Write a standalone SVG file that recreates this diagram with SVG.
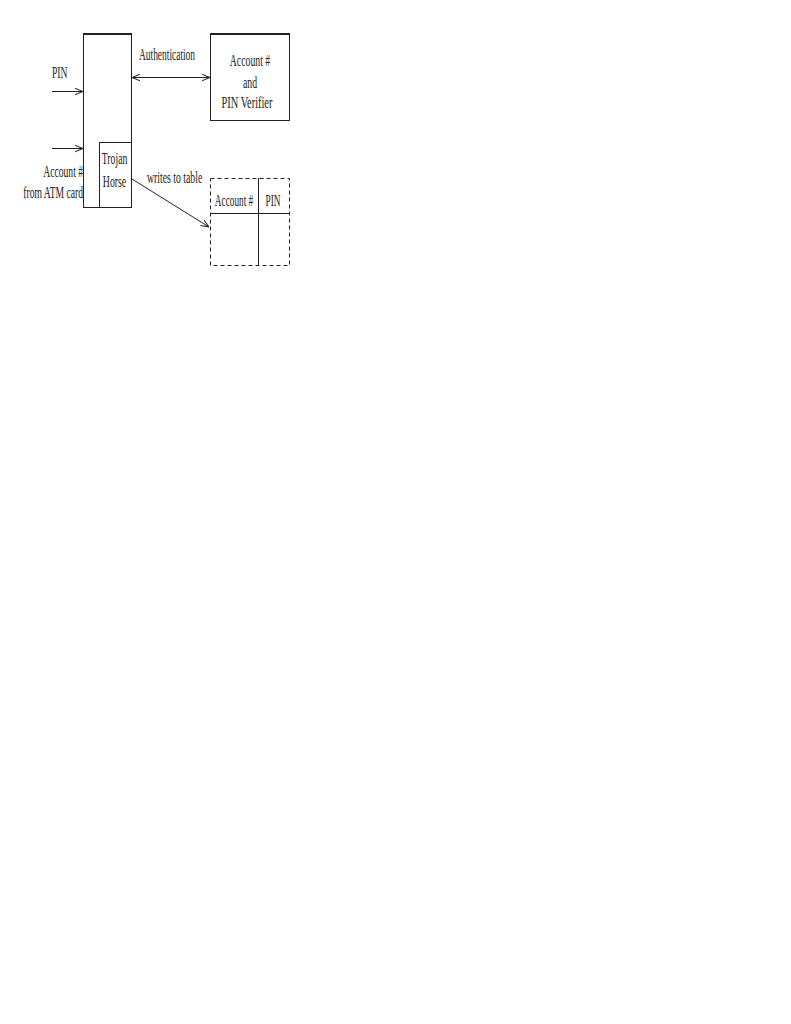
<svg xmlns="http://www.w3.org/2000/svg" width="791" height="1024" viewBox="0 0 791 1024">
<style>
text{font-family:"Liberation Serif",serif;font-size:16px;fill:#222}
.box{fill:none;stroke:#222;stroke-width:1}
.top{stroke:#222;stroke-width:2.2}
.ln{stroke:#222;stroke-width:1;fill:none}
.dash{fill:none;stroke:#222;stroke-width:1;stroke-dasharray:4,3}
</style>
<defs>
<marker id="ah" viewBox="0 0 10 10" refX="10" refY="5" markerWidth="8" markerHeight="8" markerUnits="userSpaceOnUse" orient="auto-start-reverse">
<path d="M0,1 L10,5 L0,9" fill="none" stroke="#222" stroke-width="1.3"/>
</marker>
</defs>
<rect width="791" height="1024" fill="#fff"/>
<g id="atm">
<rect class="box" x="83.5" y="33.5" width="48" height="174"/>
<line class="top" x1="83" y1="34" x2="132" y2="34"/>
</g>
<g id="trojan">
<rect class="box" x="99.5" y="142.5" width="32" height="65"/>
<text transform="translate(114.5,164) scale(0.61,1)" text-anchor="middle">Trojan</text>
<text transform="translate(114.5,187) scale(0.61,1)" text-anchor="middle">Horse</text>
</g>
<g id="verifier">
<rect class="box" x="210.5" y="33.5" width="79" height="87"/>
<line class="top" x1="210" y1="34" x2="290" y2="34"/>
<text transform="translate(250,66) scale(0.61,1)" text-anchor="middle">Account #</text>
<text transform="translate(250,88) scale(0.61,1)" text-anchor="middle">and</text>
<text transform="translate(247,108) scale(0.65,1)" text-anchor="middle">PIN Verifier</text>
</g>
<g id="table">
<rect class="dash" x="210.5" y="178.5" width="79" height="87"/>
<line class="ln" x1="258.5" y1="178" x2="258.5" y2="266"/>
<line class="ln" x1="210" y1="213.5" x2="290" y2="213.5"/>
<text transform="translate(234,206) scale(0.58,1)" text-anchor="middle">Account #</text>
<text transform="translate(273,206) scale(0.58,1)" text-anchor="middle">PIN</text>
</g>
<g id="connectors">
<line class="ln" x1="52" y1="91.5" x2="83" y2="91.5" marker-end="url(#ah)"/>
<line class="ln" x1="52" y1="148.5" x2="83" y2="148.5" marker-end="url(#ah)"/>
<line class="ln" x1="132" y1="77.5" x2="210" y2="77.5" marker-start="url(#ah)" marker-end="url(#ah)"/>
<line class="ln" x1="132" y1="179" x2="209" y2="227" marker-end="url(#ah)"/>
</g>
<g id="labels">
<text transform="translate(52,78) scale(0.6,1)">PIN</text>
<text transform="translate(83,177) scale(0.6,1)" text-anchor="end">Account #</text>
<text transform="translate(83,198) scale(0.6,1)" text-anchor="end">from ATM card</text>
<text transform="translate(139,60) scale(0.59,1)">Authentication</text>
<text transform="translate(147,183) scale(0.61,1)">writes to table</text>
</g>
</svg>
